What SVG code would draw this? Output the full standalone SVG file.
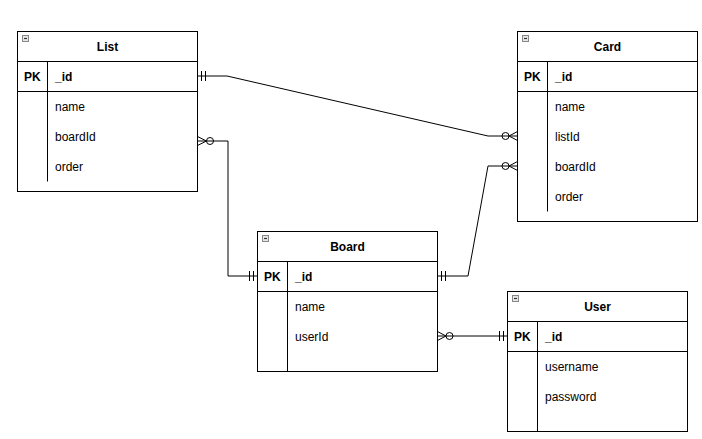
<svg xmlns="http://www.w3.org/2000/svg" width="702" height="439" viewBox="0 0 702 439">
<style>
.box{fill:#fff;stroke:#000;stroke-width:1}
.ln{fill:none;stroke:#000;stroke-width:1}
.ico{fill:#e6e6e6;stroke:#888;stroke-width:1}
.mn{fill:none;stroke:#333;stroke-width:1.2}
.t{font-family:"Liberation Sans",Arial,sans-serif;font-size:12px;fill:#000}
.b{font-weight:bold}
.c{text-anchor:middle}
</style>
<rect width="702" height="439" fill="#fff"/>
<g id="connectors">
  <!-- List._id -> Card.listId -->
  <path class="ln" d="M197.5,76 H227 L488,136 H517.5"/>
  <path class="ln" d="M201.5,71 V81 M205.5,71 V81"/>
  <circle class="ln" cx="505.5" cy="136" r="3.5" fill="#fff"/>
  <path class="ln" d="M509,136 L517.5,131.5 M509,136 L517.5,140.5"/>
  <!-- List.boardId -> Board._id -->
  <path class="ln" d="M197.5,141 H228 V276 H257.5"/>
  <circle class="ln" cx="210" cy="141" r="3.5" fill="#fff"/>
  <path class="ln" d="M206.5,141 L197.5,136.5 M206.5,141 L197.5,145.5"/>
  <path class="ln" d="M249.5,271 V281 M253.5,271 V281"/>
  <!-- Card.boardId -> Board._id -->
  <path class="ln" d="M517.5,166 H488 L468,276 H437.5"/>
  <circle class="ln" cx="505.5" cy="166" r="3.5" fill="#fff"/>
  <path class="ln" d="M509,166 L517.5,161.5 M509,166 L517.5,170.5"/>
  <path class="ln" d="M441.5,271 V281 M445.5,271 V281"/>
  <!-- Board.userId -> User._id -->
  <path class="ln" d="M437.5,336 H507.5"/>
  <circle class="ln" cx="449.5" cy="336" r="3.5" fill="#fff"/>
  <path class="ln" d="M446,336 L437.5,331.5 M446,336 L437.5,340.5"/>
  <path class="ln" d="M499.5,331 V341 M503.5,331 V341"/>
</g>
<g id="List">
  <rect class="box" x="17.5" y="31.5" width="180" height="160"/>
  <path class="ln" d="M17.5,61.5 H197.5 M17.5,91.5 H197.5 M47.5,61.5 V181.5"/>
  <rect class="ico" x="22.5" y="35.5" width="6" height="6"/><path class="mn" d="M24,38.5 H27"/>
  <text class="t b c" x="107.5" y="51">List</text>
  <text class="t b" x="24" y="80.5">PK</text>
  <text class="t b" x="55" y="80.5">_id</text>
  <text class="t" x="55" y="110.5">name</text>
  <text class="t" x="55" y="140.5">boardId</text>
  <text class="t" x="55" y="170.5">order</text>
</g>
<g id="Card">
  <rect class="box" x="517.5" y="31.5" width="180" height="190"/>
  <path class="ln" d="M517.5,61.5 H697.5 M517.5,91.5 H697.5 M547.5,61.5 V211.5"/>
  <rect class="ico" x="522.5" y="35.5" width="6" height="6"/><path class="mn" d="M524,38.5 H527"/>
  <text class="t b c" x="607.5" y="51">Card</text>
  <text class="t b" x="524" y="80.5">PK</text>
  <text class="t b" x="555" y="80.5">_id</text>
  <text class="t" x="555" y="110.5">name</text>
  <text class="t" x="555" y="140.5">listId</text>
  <text class="t" x="555" y="170.5">boardId</text>
  <text class="t" x="555" y="200.5">order</text>
</g>
<g id="Board">
  <rect class="box" x="257.5" y="231.5" width="180" height="140"/>
  <path class="ln" d="M257.5,261.5 H437.5 M257.5,291.5 H437.5 M287.5,261.5 V371.5"/>
  <rect class="ico" x="262.5" y="235.5" width="6" height="6"/><path class="mn" d="M264,238.5 H267"/>
  <text class="t b c" x="347.5" y="251">Board</text>
  <text class="t b" x="264" y="280.5">PK</text>
  <text class="t b" x="295" y="280.5">_id</text>
  <text class="t" x="295" y="310.5">name</text>
  <text class="t" x="295" y="340.5">userId</text>
</g>
<g id="User">
  <rect class="box" x="507.5" y="291.5" width="180" height="140"/>
  <path class="ln" d="M507.5,321.5 H687.5 M507.5,351.5 H687.5 M537.5,321.5 V431.5"/>
  <rect class="ico" x="512.5" y="295.5" width="6" height="6"/><path class="mn" d="M514,298.5 H517"/>
  <text class="t b c" x="597.5" y="311">User</text>
  <text class="t b" x="514" y="340.5">PK</text>
  <text class="t b" x="545" y="340.5">_id</text>
  <text class="t" x="545" y="370.5">username</text>
  <text class="t" x="545" y="400.5">password</text>
</g>
</svg>
